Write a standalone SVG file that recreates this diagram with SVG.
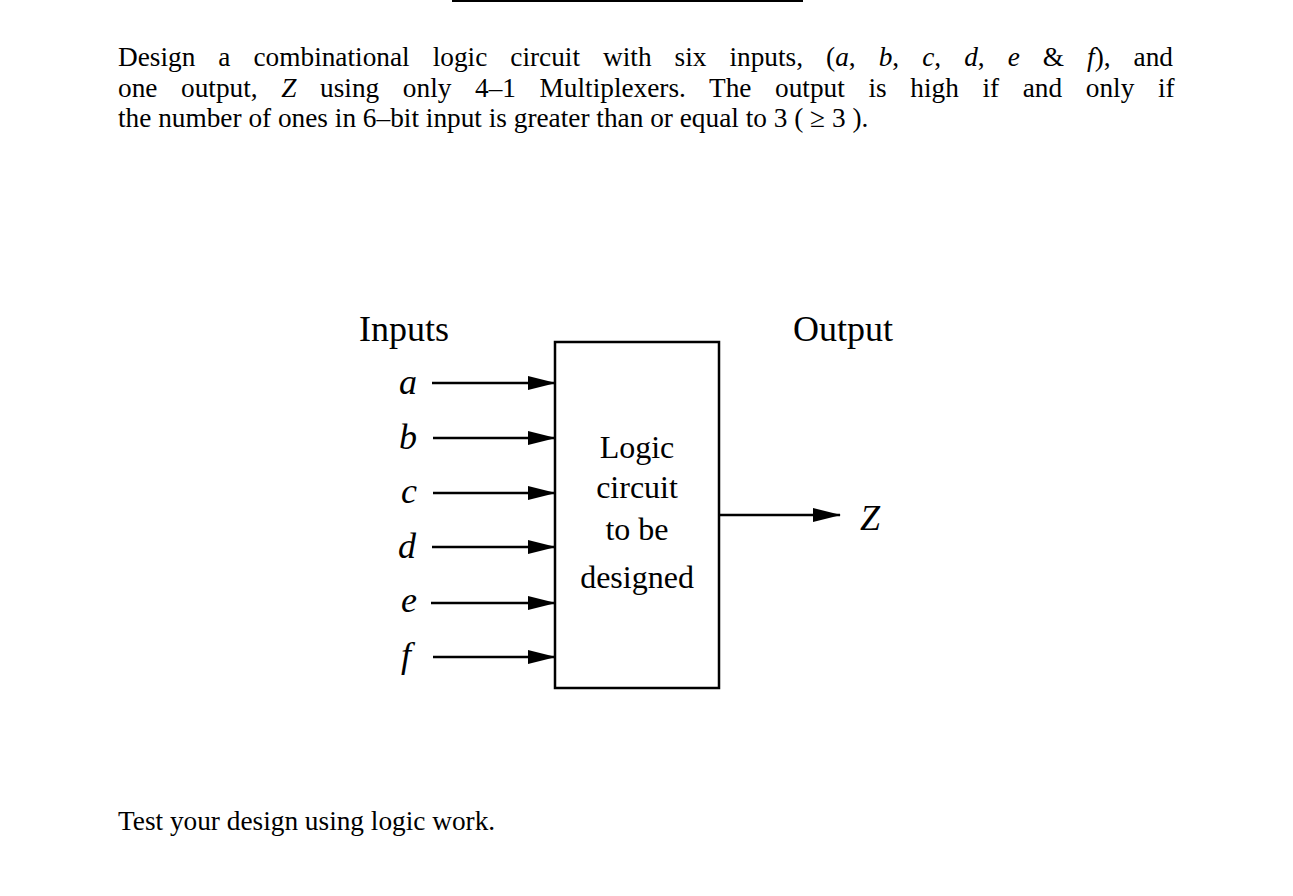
<svg xmlns="http://www.w3.org/2000/svg" width="1293" height="896" viewBox="0 0 1293 896">
<defs>
<style>
text{font-family:"Liberation Serif","Times New Roman",serif;fill:#000}
.p{font-size:27.3px}
.v{font-size:36px;font-style:italic}
.h{font-size:36px}
.b{font-size:32px;text-anchor:middle}
.w{stroke:#000;stroke-width:2.5;fill:none}
</style>
<marker id="ar" markerWidth="28" markerHeight="14" refX="27" refY="7" orient="auto" markerUnits="userSpaceOnUse"><path d="M0,0 L28,7 L0,14 Z" fill="#000"/></marker>
</defs>
<rect width="1293" height="896" fill="#fff"/>
<line x1="452" y1="1" x2="803" y2="1" stroke="#000" stroke-width="2"/>
<g id="problem">
<text class="p" x="118" y="66" word-spacing="16.2">Design a combinational logic circuit with six inputs, (<tspan font-style="italic">a</tspan>, <tspan font-style="italic">b</tspan>, <tspan font-style="italic">c</tspan>, <tspan font-style="italic">d</tspan>, <tspan font-style="italic">e</tspan> &amp; <tspan font-style="italic">f</tspan>), and</text>
<text class="p" x="118" y="97" word-spacing="16.8">one output, <tspan font-style="italic">Z</tspan> using only 4–1 Multiplexers. The output is high if and only if</text>
<text class="p" x="118" y="127">the number of ones in 6–bit input is greater than or equal to 3 ( ≥ 3 ).</text>
</g>
<g id="labels">
<text class="h" x="359" y="341">Inputs</text>
<text class="h" x="793" y="341">Output</text>
<text class="v" x="399" y="394">a</text>
<text class="v" x="399" y="449">b</text>
<text class="v" x="401" y="503">c</text>
<text class="v" x="398" y="558">d</text>
<text class="v" x="401" y="612">e</text>
<text class="v" x="401" y="667">f</text>
<text class="v" x="860" y="530">Z</text>
</g>
<g id="box">
<rect x="555" y="342" width="164" height="346" class="w"/>
<text class="b" x="637" y="458">Logic</text>
<text class="b" x="637" y="498">circuit</text>
<text class="b" x="637" y="540">to be</text>
<text class="b" x="637" y="588">designed</text>
</g>
<g id="connectors" class="w">
<line x1="432" y1="383" x2="555" y2="383" marker-end="url(#ar)"/>
<line x1="433" y1="438" x2="555" y2="438" marker-end="url(#ar)"/>
<line x1="433" y1="493" x2="555" y2="493" marker-end="url(#ar)"/>
<line x1="432" y1="547" x2="555" y2="547" marker-end="url(#ar)"/>
<line x1="431" y1="603" x2="555" y2="603" marker-end="url(#ar)"/>
<line x1="433" y1="657" x2="555" y2="657" marker-end="url(#ar)"/>
<line x1="719" y1="515" x2="840" y2="515" marker-end="url(#ar)"/>
</g>
<text class="p" x="118" y="830">Test your design using logic work.</text>
</svg>
